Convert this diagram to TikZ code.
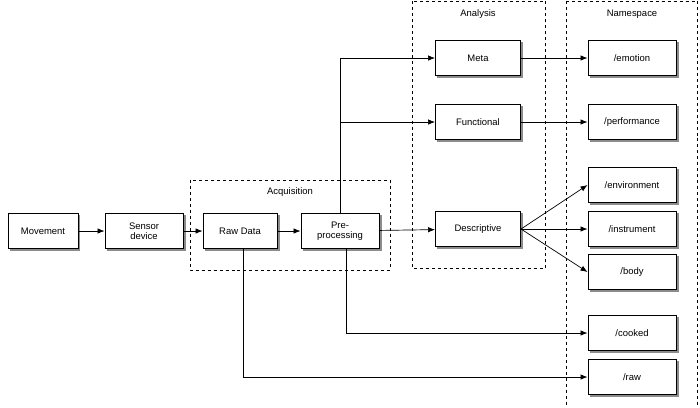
\documentclass[tikz,border=0pt]{standalone}
\usepackage{fontspec}
\setmainfont{Liberation Sans}
\usetikzlibrary{positioning,arrows.meta,backgrounds}
\tikzset{
  box/.style={draw,line width=1pt,fill=white,minimum width=78bp,minimum height=35bp,
    align=center,font=\fontsize{9.5}{10.5}\selectfont},
  nsbox/.style={box,minimum width=88bp},
  shadow/.style={fill=black!45},
  group/.style={draw,dashed,line width=0.8pt},
  grouplabel/.style={font=\fontsize{9.5}{10}\selectfont},
  link/.style={-{Latex[length=7pt,width=5.5pt]},line width=0.7pt}
}
\begin{document}
\begin{tikzpicture}[x=1bp,y=-1bp]
\useasboundingbox (0,0) rectangle (700,407);
% groups
\draw[group] (190,180) rectangle (390,270);
\node[grouplabel] (acqlabel) at (290,192) {Acquisition};
\draw[group] (412,1) rectangle (545,268);
\node[grouplabel] (analabel) at (478,14) {Analysis};
\draw[group] (566,1) -- (566,407) (697,1) -- (697,407) (566,1) -- (697,1);
\node[grouplabel] (nslabel) at (632,14) {Namespace};
% acquisition chain
\node[box,minimum width=70bp] (movement) at (43,231) {Movement};
\node[box] (sensor) at (144,231) {Sensor\\device};
\node[box,minimum width=74bp] (raw) at (240,231) {Raw Data};
\node[box] (pre) at (340,231) {Pre-\\processing};
% analysis
\node[box,minimum width=85bp] (meta) at (478,58) {Meta};
\node[box,minimum width=85bp] (func) at (478,122) {Functional};
\node[box,minimum width=85bp] (desc) at (478,229) {Descriptive};
% namespace
\node[nsbox] (emotion) at (632,58) {/emotion};
\node[nsbox] (perf) at (632,122) {/performance};
\node[nsbox] (env) at (632,185) {/environment};
\node[nsbox] (instr) at (632,229) {/instrument};
\node[nsbox] (body) at (632,272) {/body};
\node[nsbox] (cooked) at (632,333) {/cooked};
\node[nsbox] (rawns) at (632,377) {/raw};
% shadows
\begin{scope}[on background layer]
  \foreach \n in {movement,sensor,raw,pre,meta,func,desc,emotion,perf,env,instr,body,cooked,rawns}
    \fill[shadow] ([shift={(2,2)}]\n.south west) rectangle ([shift={(2,2)}]\n.north east);
\end{scope}
% connectors
\draw[link] (movement) -- (sensor);
\draw[link] (sensor) -- (raw);
\draw[link] (raw) -- (pre);
\draw[link] (pre) -- (desc);
\draw[link] (pre.north) |- (meta);
\draw[link] (pre.north |- func) -- (func);
\draw[link] (meta) -- (emotion);
\draw[link] (func) -- (perf);
\draw[link] (desc.east) -- (env.west);
\draw[link] (desc) -- (instr);
\draw[link] (desc.east) -- (body.west);
\draw[link] ([xshift=6bp]pre.south) |- (cooked);
\draw[link] ([xshift=3bp]raw.south) |- (rawns);
\end{tikzpicture}
\end{document}
